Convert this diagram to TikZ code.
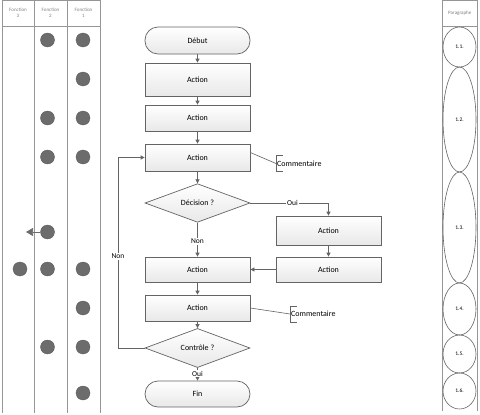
\documentclass[tikz,border=0pt]{standalone}
\usepackage{fontspec}
\setmainfont{Carlito}
\usetikzlibrary{shapes.geometric,arrows.meta}
\definecolor{ln}{RGB}{100,100,100}
\definecolor{dotc}{RGB}{108,108,108}
\definecolor{hdr}{RGB}{150,150,150}
\tikzset{
  box/.style={draw=ln,line width=0.7pt,top color=white,bottom color=gray!18,minimum width=105pt,font=\fontsize{8}{9}\selectfont,inner sep=0pt},
  term/.style={box,rounded corners=13pt},
  dia/.style={draw=ln,line width=0.7pt,shape=diamond,top color=white,bottom color=gray!18,minimum width=105pt,font=\fontsize{8}{9}\selectfont,inner sep=0pt},
  flow/.style={draw=ln,line width=0.7pt,-{Triangle[length=4pt,width=4pt]}},
  lbl/.style={fill=white,inner sep=1pt,font=\fontsize{7.5}{9}\selectfont},
  cmt/.style={anchor=west,inner sep=1pt,font=\fontsize{8}{9}\selectfont},
  dot/.style={circle,fill=dotc,draw=dotc!80!black,line width=0.3pt,minimum size=14pt,inner sep=0pt},
  lane/.style={draw=hdr,line width=0.7pt},
  hcell/.style={draw=hdr,line width=0.6pt,fill=white,inner sep=0pt,font=\fontsize{5}{5.5}\selectfont,text=gray,align=center},
  para/.style={ellipse,draw=ln,line width=0.6pt,minimum width=33pt,inner sep=0pt,font=\fontsize{5.5}{6}\selectfont}
}
\begin{document}
\begin{tikzpicture}[x=1pt,y=-1pt]
\useasboundingbox (0,0) rectangle (480,415);
% left lanes
\foreach \x in {2,34,67,100} \draw[lane] (\x,0) -- (\x,413);
\node[hcell,minimum width=32pt,minimum height=26pt] (h3) at (18,13) {Fonction\\3};
\node[hcell,minimum width=33pt,minimum height=26pt] (h2) at (50.5,13) {Fonction\\2};
\node[hcell,minimum width=33pt,minimum height=26pt] (h1) at (83.5,13) {Fonction\\1};
% dots
\node[dot] (f2a) at (47.5,40) {};
\node[dot] (f1a) at (83,40) {};
\node[dot] (f1b) at (83,79) {};
\node[dot] (f2c) at (47.5,118) {};
\node[dot] (f1c) at (83,118) {};
\node[dot] (f2d) at (47.5,157) {};
\node[dot] (f1d) at (83,157) {};
\node[dot] (f2e) at (47.5,232) {};
\coordinate (f3tip) at (26,232);
\draw[draw=dotc,line width=0.7pt,-{Triangle[length=7pt,width=8pt]}] (f2e.west) -- (f3tip);
\node[dot] (f3f) at (20,269) {};
\node[dot] (f2f) at (47.5,269) {};
\node[dot] (f1f) at (83,269) {};
\node[dot] (f1g) at (83,308) {};
\node[dot] (f2h) at (47.5,347) {};
\node[dot] (f1h) at (83,347) {};
\node[dot] (f1i) at (83,393) {};
% right column
\draw[lane] (442.5,0) -- (442.5,411);
\draw[lane] (477,0) -- (477,411);
\node[hcell,minimum width=34.5pt,minimum height=26pt] (hp) at (459.75,13) {Paragraphe};
\node[para,minimum height=40pt] (p1) at (459.5,47) {1.1.};
\node[para,minimum height=105pt] (p2) at (459.5,119.5) {1.2.};
\node[para,minimum height=111pt] (p3) at (459.5,227.5) {1.3.};
\node[para,minimum height=52pt] (p4) at (459.5,309) {1.4.};
\node[para,minimum height=38pt] (p5) at (459.5,354) {1.5.};
\node[para,minimum height=36pt] (p6) at (459.5,391) {1.6.};
% flowchart
\node[term,minimum height=27pt] (deb) at (197.5,40.5) {Début};
\node[box,minimum height=33pt] (a1) at (197.5,79.5) {Action};
\node[box,minimum height=26pt] (a2) at (197.5,118) {Action};
\node[box,minimum height=27pt] (a3) at (197.5,157.5) {Action};
\node[dia,minimum height=38pt] (dec) at (197.5,203) {Décision ?};
\node[box,minimum height=29pt] (ra1) at (328.5,230.5) {Action};
\node[box,minimum height=25pt] (ra2) at (328.5,269.5) {Action};
\node[box,minimum height=25pt] (a4) at (197.5,269.5) {Action};
\node[box,minimum height=26pt] (a5) at (197.5,308) {Action};
\node[dia,minimum height=28pt] (ctl) at (197.5,348) {Contrôle ?};
\node[term,minimum height=26pt] (fin) at (197.5,394) {Fin};
\draw[flow] (deb) -- (a1);
\draw[flow] (a1) -- (a2);
\draw[flow] (a2) -- (a3);
\draw[flow] (a3) -- (dec);
\draw[flow] (dec.east) -| node[lbl,pos=0.27] {Oui} (ra1.north);
\draw[flow] (dec.south) -- node[lbl,pos=0.55] {Non} (a4.north);
\draw[flow] (ra1) -- (ra2);
\draw[flow] (ra2) -- (a4);
\draw[flow] (a4) -- (a5);
\draw[flow] (a5) -- (ctl);
\draw[flow] (ctl.south) -- node[lbl,pos=0.45] {Oui} (fin.north);
\coordinate (loopx) at (118,0);
\draw[flow] (ctl.west) -- (ctl.west -| loopx) -- node[lbl,pos=0.48] {Non} (a3.west -| loopx) -- (a3.west);
% comments
\node[cmt] (c1) at (276,163.5) {Commentaire};
\draw[draw=ln,line width=0.6pt] ([xshift=7pt,yshift=8pt]c1.west) -- ([yshift=8pt]c1.west) -- ([yshift=-8pt]c1.west) -- ([xshift=7pt,yshift=-8pt]c1.west);
\draw[draw=ln,line width=0.6pt] ([yshift=5pt]a3.east) -- (c1.west);
\node[cmt] (c2) at (290,314) {Commentaire};
\draw[draw=ln,line width=0.6pt] ([xshift=7pt,yshift=8pt]c2.west) -- ([yshift=8pt]c2.west) -- ([yshift=-8pt]c2.west) -- ([xshift=7pt,yshift=-8pt]c2.west);
\draw[draw=ln,line width=0.6pt] ([yshift=0pt]a5.east) -- (c2.west);
\end{tikzpicture}
\end{document}
